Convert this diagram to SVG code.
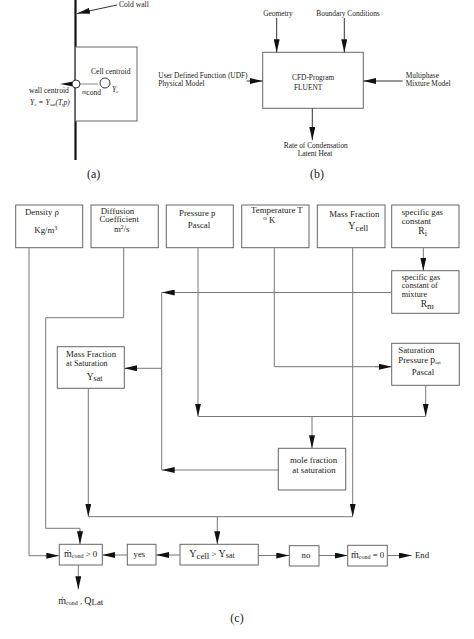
<svg xmlns="http://www.w3.org/2000/svg" width="474" height="639" viewBox="0 0 474 639">
<defs>
<marker id="ah" markerUnits="userSpaceOnUse" markerWidth="13" markerHeight="6" refX="13" refY="3" orient="auto">
<path d="M0,0 L13,3 L0,6 z" fill="#111"/>
</marker>
</defs>
<style>
text{font-family:"Liberation Serif","Times New Roman",serif;fill:#222}
.a{font-size:7.6px}
.b{font-size:7.4px}
.c{font-size:8.8px}
.t{font-size:8.2px}
.lab{font-size:12px}
.box{fill:#fff;stroke:#666;stroke-width:1}
.ln{stroke:#777;stroke-width:1;fill:none}
.ar{stroke:#777;stroke-width:1;fill:none;marker-end:url(#ah)}
.bk{stroke:#333;stroke-width:1;fill:none;marker-end:url(#ah)}
</style>
<rect width="474" height="639" fill="#fff"/>

<!-- Panel (a) -->
<g id="panel-a">
<line x1="75.5" y1="0" x2="75.5" y2="160" stroke="#111" stroke-width="2.2"/>
<rect class="box" x="75.5" y="47" width="61.5" height="74"/>
<line class="bk" x1="117" y1="5" x2="77" y2="13.5"/>
<text class="a" x="119" y="7">Cold wall</text>
<text class="a" x="91" y="74">Cell centroid</text>
<line x1="80" y1="84" x2="98" y2="84" stroke="#888" stroke-width="1"/>
<circle cx="76" cy="84" r="4" fill="#fff" stroke="#333" stroke-width="1"/>
<circle cx="105" cy="83" r="5" fill="#fff" stroke="#333" stroke-width="1"/>
<path d="M60,84 L72,81.8 L72,86.2 z" fill="#111"/>
<text class="a" x="29" y="93">wall centroid</text>
<text class="a" x="30" y="105" font-style="italic" font-size="7">Y<tspan font-size="5" dy="1">c</tspan><tspan dy="-1"> = Y</tspan><tspan font-size="5" dy="1">sat</tspan><tspan dy="-1">(T,p)</tspan></text>
<text class="a" x="82" y="94"><tspan font-style="italic" font-size="6">m</tspan><tspan font-size="7.6" dy="1">cond</tspan></text>
<text class="a" x="112" y="92" font-style="italic" font-size="6.5">Y<tspan font-size="5" dy="1">c</tspan></text>
<text class="lab" x="87" y="178">(a)</text>
</g>

<!-- Panel (b) -->
<g id="panel-b">
<rect class="box" x="262.7" y="52.3" width="100.6" height="56"/>
<text class="b" x="292" y="79.5">CFD-Program</text>
<text class="b" x="294" y="90">FLUENT</text>
<text class="b" x="278" y="15.5" text-anchor="middle">Geometry</text>
<text class="b" x="348" y="15.5" text-anchor="middle">Boundary Conditions</text>
<line class="bk" x1="276.7" y1="18" x2="276.7" y2="52.3"/>
<line class="bk" x1="344.3" y1="18" x2="344.3" y2="52.3"/>
<text class="b" x="158.3" y="78">User Defined Function (UDF)</text>
<text class="b" x="158.3" y="86">Physical Model</text>
<line class="bk" x1="246.7" y1="81" x2="262.7" y2="81"/>
<text class="b" x="405.7" y="78">Multiphase</text>
<text class="b" x="405.7" y="86">Mixture Model</text>
<line class="bk" x1="402.7" y1="81" x2="363.3" y2="81"/>
<line class="bk" x1="312.3" y1="108.3" x2="312.3" y2="140"/>
<text class="b" x="315.8" y="148" text-anchor="middle">Rate of Condensation</text>
<text class="b" x="315" y="156" text-anchor="middle">Latent Heat</text>
<text class="lab" x="317" y="178" text-anchor="middle">(b)</text>
</g>

<!-- Panel (c) nodes -->
<g id="density">
<rect class="box" x="15.7" y="205" width="67" height="42.7"/>
<text class="c" x="25" y="215">Density  ρ</text>
<text class="c" x="34.3" y="233.3">Kg/m<tspan font-size="6" dy="-3.5">3</tspan></text>
</g>
<g id="diffusion">
<rect class="box" x="91" y="205" width="67.3" height="42.7"/>
<text class="c" x="100.7" y="213.5">Diffusion</text>
<text class="c" x="99.5" y="222">Coefficient</text>
<text class="c" x="114" y="231.5">m<tspan font-size="5.5" dy="-3">2</tspan><tspan dy="3">/s</tspan></text>
</g>
<g id="pressure">
<rect class="box" x="166.3" y="205" width="67" height="42.7"/>
<text class="c" x="179" y="216">Pressure  p</text>
<text class="c" x="187.7" y="228.3">Pascal</text>
</g>
<g id="temperature">
<rect class="box" x="241.7" y="205" width="67.3" height="42.7"/>
<text class="c" x="251" y="212.5">Temperature  T</text>
<text class="c" x="263.3" y="222.5"><tspan font-size="7" dy="-2.5">o</tspan><tspan dy="2.5"> K</tspan></text>
</g>
<g id="massfraction">
<rect class="box" x="317.3" y="205" width="67.7" height="42.7"/>
<text class="c" x="329.3" y="216.7">Mass Fraction</text>
<text class="c" x="348.3" y="229"><tspan font-size="10">Y</tspan><tspan dy="2">cell</tspan></text>
</g>
<g id="gasconst">
<rect class="box" x="391.7" y="205" width="67.3" height="42.7"/>
<text class="c" x="401.7" y="215">specific gas</text>
<text class="c" x="401.7" y="223.5">constant</text>
<text class="c" x="418.3" y="233.5"><tspan font-size="9.5">R</tspan><tspan font-size="8" dy="2">i</tspan></text>
</g>
<g id="gasmix">
<rect class="box" x="391.7" y="270.7" width="67.3" height="42.6"/>
<text class="t" x="401.7" y="280">specific gas</text>
<text class="t" x="401.7" y="288.3">constant of</text>
<text class="t" x="401.7" y="296.7">mixture</text>
<text class="c" x="420.7" y="306.8"><tspan font-size="9.5">R</tspan><tspan dy="2">m</tspan></text>
</g>
<g id="ysat">
<rect class="box" x="57.3" y="346.7" width="67" height="41.6"/>
<text class="c" x="66" y="357.3">Mass Fraction</text>
<text class="t" x="66" y="365.7">at Saturation</text>
<text class="c" x="86.7" y="379.5"><tspan font-size="9.5">Y</tspan><tspan font-size="8" dy="1">sat</tspan></text>
</g>
<g id="psat">
<rect class="box" x="391.7" y="343.3" width="67.6" height="42"/>
<text class="c" x="398.3" y="352.5">Saturation</text>
<text class="c" x="398.3" y="362.5">Pressure   <tspan font-size="9.5">p</tspan><tspan font-size="5" dy="1">sat</tspan></text>
<text class="c" x="411.7" y="374.5">Pascal</text>
</g>
<g id="molefraction">
<rect class="box" x="278.3" y="448.3" width="67.4" height="41.7"/>
<text class="c" x="290" y="463.3">mole fraction</text>
<text class="c" x="292.3" y="473.3">at saturation</text>
</g>
<g id="mcondpos">
<rect class="box" x="59.3" y="544.3" width="43" height="20.7"/>
<text class="c" x="64" y="557"><tspan font-size="10">ṁ</tspan><tspan font-size="6" dy="1">cond</tspan><tspan dy="-1"> &gt; 0</tspan></text>
</g>
<g id="yes">
<rect class="box" x="127.3" y="544.3" width="28.7" height="20.7"/>
<text class="c" x="133.5" y="557">yes</text>
</g>
<g id="compare">
<rect class="box" x="180" y="544.3" width="78.3" height="20.7"/>
<text class="c" x="189.3" y="557"><tspan font-size="10">Y</tspan><tspan dy="1.5">cell</tspan><tspan dy="-1.5">  &gt;  </tspan><tspan font-size="10">Y</tspan><tspan font-size="8" dy="1">sat</tspan></text>
</g>
<g id="no">
<rect class="box" x="289.3" y="545.7" width="29.7" height="20.3"/>
<text class="c" x="301.5" y="558">no</text>
</g>
<g id="mcondzero">
<rect class="box" x="347.7" y="545.3" width="39.6" height="20.7"/>
<text class="c" x="351" y="558"><tspan font-size="10">ṁ</tspan><tspan font-size="6" dy="1">cond</tspan><tspan dy="-1"> = 0</tspan></text>
</g>
<g id="end">
<text class="c" x="415" y="558">End</text>
</g>
<g id="output">
<text class="c" x="58.3" y="603.5"><tspan font-size="10">ṁ</tspan><tspan font-size="6" dy="1">cond</tspan><tspan dy="-1"> , </tspan><tspan font-size="10">Q</tspan><tspan dy="1.5">Lat</tspan></text>
</g>
<text class="lab" x="237" y="622" text-anchor="middle">(c)</text>

<!-- Connectors -->
<g id="connectors">
<line class="ar" x1="423.3" y1="247.7" x2="423.3" y2="270.7"/>
<line class="ln" x1="391.7" y1="292.5" x2="175" y2="292.5"/>
<line class="ar" x1="176" y1="292.5" x2="161.7" y2="292.5"/>
<line class="ln" x1="161.7" y1="292.5" x2="161.7" y2="470"/>
<line class="ar" x1="161.7" y1="368.3" x2="124.3" y2="368.3"/>
<line class="ar" x1="278.3" y1="470" x2="161.7" y2="470"/>
<polyline class="ln" points="29,247.7 29,555.7 50,555.7"/>
<line class="ar" x1="45" y1="555.7" x2="59.3" y2="555.7"/>
<polyline class="ln" points="123.7,247.7 123.7,317.7 45.7,317.7 45.7,528.3 80,528.3 80,535"/>
<line class="ar" x1="80" y1="530" x2="80" y2="544.3"/>
<line class="ar" x1="198" y1="247.7" x2="198" y2="416.5"/>
<line class="ln" x1="198" y1="416.5" x2="425.7" y2="416.5"/>
<line class="ar" x1="425.7" y1="385.3" x2="425.7" y2="416.5"/>
<line class="ar" x1="312" y1="416.5" x2="312" y2="448.3"/>
<polyline class="ln" points="274.3,247.7 274.3,366.7 380,366.7"/>
<line class="ar" x1="375" y1="366.7" x2="391.7" y2="366.7"/>
<line class="ar" x1="88.3" y1="388.3" x2="88.3" y2="516.7"/>
<line class="ar" x1="352.7" y1="247.7" x2="352.7" y2="516.7"/>
<line class="ln" x1="88.3" y1="516.7" x2="352.7" y2="516.7"/>
<line class="ar" x1="217.3" y1="516.7" x2="217.3" y2="544.3"/>
<line class="ar" x1="180" y1="555" x2="156" y2="555"/>
<line class="ar" x1="127.3" y1="555" x2="102.3" y2="555"/>
<line class="ar" x1="258.3" y1="555.5" x2="289.3" y2="555.5"/>
<line class="ar" x1="319" y1="555.5" x2="347.7" y2="555.5"/>
<line class="ar" x1="387.3" y1="555.5" x2="411.7" y2="555.5"/>
<line class="ar" x1="78.3" y1="565" x2="78.3" y2="589.3"/>
</g>
</svg>
